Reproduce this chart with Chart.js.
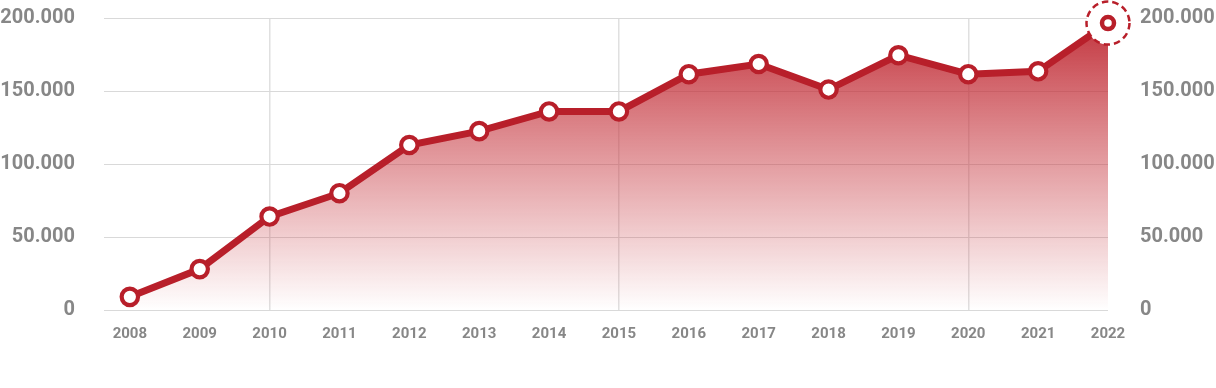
<!DOCTYPE html>
<html>
<head>
<meta charset="utf-8">
<script src="https://cdn.jsdelivr.net/npm/chart.js@4.4.1/dist/chart.umd.min.js"></script>
<style>
  html, body { margin: 0; padding: 0; background: #fff; }
  #wrap { width: 1216px; height: 388px; }
</style>
</head>
<body>
<div id="wrap"><canvas id="myChart" width="1216" height="388"></canvas></div>
<script>
// data
const years = [2008, 2009, 2010, 2011, 2012, 2013, 2014, 2015, 2016, 2017, 2018, 2019, 2020, 2021, 2022];
const values = [9000, 28000, 64000, 80000, 113000, 122500, 136000, 136000, 161500, 168500, 151000, 174500, 161500, 163500, 196500];
const yTicks = [0, 50000, 100000, 150000, 200000];
const gridYears = [2010, 2015, 2020];

const red = '#b81f2a';
const grey = '#878787';

const fmt = (v) => String(v).replace(/\B(?=(\d{3})+(?!\d))/g, '.');

const fillGradient = (ctx) => {
  const area = ctx.chart.chartArea;
  if (!area) return 'rgba(185,30,40,0.5)';
  const g = ctx.chart.ctx.createLinearGradient(0, area.top, 0, area.bottom);
  g.addColorStop(0, 'rgba(188,32,42,0.92)');
  g.addColorStop(0.5, 'rgba(200,60,68,0.5)');
  g.addColorStop(1, 'rgba(200,60,68,0)');
  return g;
};

const lastIdx = values.length - 1;

// dashed ring round the last point
const ringPlugin = {
  id: 'ring',
  afterDatasetsDraw(chart) {
    const meta = chart.getDatasetMeta(0);
    const pt = meta.data[lastIdx];
    if (!pt) return;
    const c = chart.ctx;
    c.save();
    c.beginPath();
    c.arc(pt.x, pt.y, 21.5, 0, Math.PI * 2);
    c.fillStyle = '#fff';
    c.fill();
    c.setLineDash([6.5, 4]);
    c.lineWidth = 2.5;
    c.strokeStyle = red;
    c.stroke();
    c.restore();
    pt.draw(c, chart.chartArea);
  }
};

const fixY = (w) => (scale) => {
  scale.width = w;
  scale.paddingTop = 12;
  scale.paddingBottom = 0;
};

const Config = {
  type: 'line',
  plugins: [ringPlugin],
  data: {
    datasets: [{
      data: years.map((y, i) => ({ x: y, y: values[i] })),
      borderColor: red,
      borderWidth: 7,
      backgroundColor: fillGradient,
      fill: 'origin',
      tension: 0,
      pointRadius: (ctx) => ctx.dataIndex === lastIdx ? 6 : 8.2,
      pointBorderWidth: (ctx) => ctx.dataIndex === lastIdx ? 4.5 : 4.2,
      pointBackgroundColor: '#fff',
      pointBorderColor: red,
      clip: false
    }]
  },
  options: {
    responsive: false,
    animation: false,
    layout: { padding: { top: 18, left: 0, right: 0, bottom: 0 } },
    plugins: {
      legend: { display: false },
      tooltip: { enabled: false }
    },
    scales: {
      x: {
        type: 'linear',
        min: 2007.63,
        max: 2022,
        afterBuildTicks: (scale) => { scale.ticks = years.map(v => ({ value: v })); },
        afterFit: (scale) => { scale.height = 78; },
        border: { display: false },
        grid: {
          drawTicks: false,
          lineWidth: 1.5,
          color: (ctx) => (ctx.tick && gridYears.includes(ctx.tick.value)) ? '#e0e0e0' : 'rgba(0,0,0,0)'
        },
        ticks: {
          padding: 15,
          color: grey,
          font: { family: 'Roboto', size: 15, weight: 'bold' },
          callback: (v) => String(v),
          maxRotation: 0,
          autoSkip: false
        }
      },
      y: {
        position: 'left',
        min: 0,
        max: 200000,
        afterBuildTicks: (scale) => { scale.ticks = yTicks.map(v => ({ value: v })); },
        afterFit: fixY(104),
        border: { display: false },
        grid: { drawTicks: false, color: '#d9d9d9', lineWidth: 1 },
        ticks: {
          padding: 29,
          color: grey,
          font: { family: 'Roboto', size: 20, weight: 'bold' },
          callback: (v) => fmt(v)
        }
      },
      y2: {
        position: 'right',
        min: 0,
        max: 200000,
        afterBuildTicks: (scale) => { scale.ticks = yTicks.map(v => ({ value: v })); },
        afterFit: fixY(108),
        border: { display: false },
        grid: { display: false, drawTicks: false },
        ticks: {
          padding: 32,
          color: grey,
          font: { family: 'Roboto', size: 20, weight: 'bold' },
          callback: (v) => fmt(v)
        }
      }
    }
  }
};

const myChart = new Chart(document.getElementById('myChart'), Config);
</script>
</body>
</html>
